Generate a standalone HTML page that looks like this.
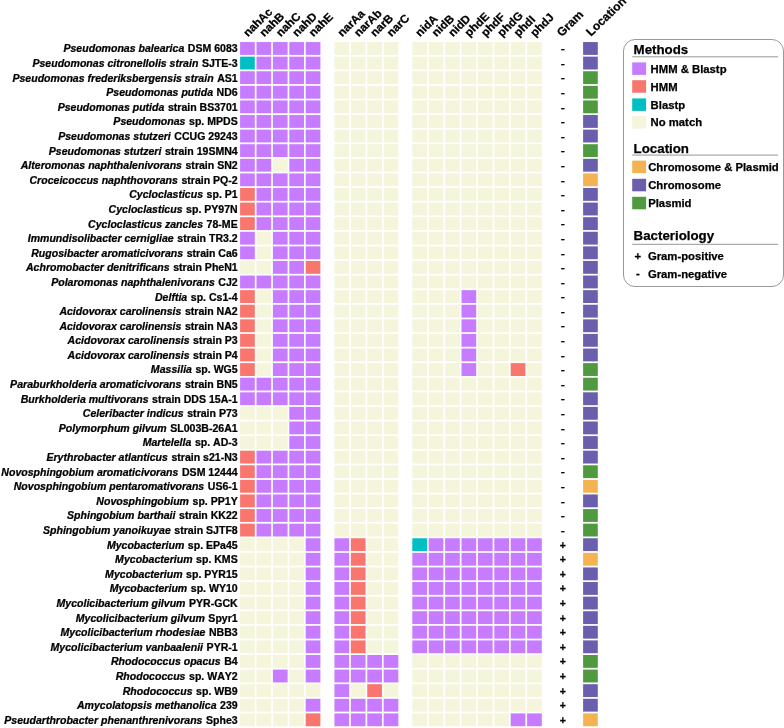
<!DOCTYPE html>
<html lang="en"><head><meta charset="utf-8"><title>Heatmap</title>
<style>html,body{margin:0;padding:0;background:#fff}svg{display:block}text{font-kerning:none;stroke:#000;stroke-width:0.25px;font-family:"Liberation Sans",Arial,Helvetica,sans-serif;font-weight:bold;fill:#000}.i{font-style:italic}</style></head><body>
<svg width="784" height="728" viewBox="0 0 784 728">
<rect width="784" height="728" fill="#fff"/>
<g shape-rendering="auto">
<rect x="240.10" y="42.05" width="14.7" height="12.85" fill="#c77cff"/>
<rect x="256.50" y="42.05" width="14.7" height="12.85" fill="#c77cff"/>
<rect x="272.90" y="42.05" width="14.7" height="12.85" fill="#c77cff"/>
<rect x="289.30" y="42.05" width="14.7" height="12.85" fill="#c77cff"/>
<rect x="305.70" y="42.05" width="14.7" height="12.85" fill="#c77cff"/>
<rect x="334.45" y="42.05" width="14.7" height="12.85" fill="#f4f5db"/>
<rect x="350.85" y="42.05" width="14.7" height="12.85" fill="#f4f5db"/>
<rect x="367.25" y="42.05" width="14.7" height="12.85" fill="#f4f5db"/>
<rect x="383.65" y="42.05" width="14.7" height="12.85" fill="#f4f5db"/>
<rect x="412.30" y="42.05" width="14.7" height="12.85" fill="#f4f5db"/>
<rect x="428.70" y="42.05" width="14.7" height="12.85" fill="#f4f5db"/>
<rect x="445.10" y="42.05" width="14.7" height="12.85" fill="#f4f5db"/>
<rect x="461.50" y="42.05" width="14.7" height="12.85" fill="#f4f5db"/>
<rect x="477.90" y="42.05" width="14.7" height="12.85" fill="#f4f5db"/>
<rect x="494.30" y="42.05" width="14.7" height="12.85" fill="#f4f5db"/>
<rect x="510.70" y="42.05" width="14.7" height="12.85" fill="#f4f5db"/>
<rect x="527.10" y="42.05" width="14.7" height="12.85" fill="#f4f5db"/>
<rect x="583.1" y="42.05" width="14.7" height="12.85" fill="#6a5fac"/>
<rect x="240.10" y="56.64" width="14.7" height="12.85" fill="#00bfc4"/>
<rect x="256.50" y="56.64" width="14.7" height="12.85" fill="#c77cff"/>
<rect x="272.90" y="56.64" width="14.7" height="12.85" fill="#c77cff"/>
<rect x="289.30" y="56.64" width="14.7" height="12.85" fill="#c77cff"/>
<rect x="305.70" y="56.64" width="14.7" height="12.85" fill="#c77cff"/>
<rect x="334.45" y="56.64" width="14.7" height="12.85" fill="#f4f5db"/>
<rect x="350.85" y="56.64" width="14.7" height="12.85" fill="#f4f5db"/>
<rect x="367.25" y="56.64" width="14.7" height="12.85" fill="#f4f5db"/>
<rect x="383.65" y="56.64" width="14.7" height="12.85" fill="#f4f5db"/>
<rect x="412.30" y="56.64" width="14.7" height="12.85" fill="#f4f5db"/>
<rect x="428.70" y="56.64" width="14.7" height="12.85" fill="#f4f5db"/>
<rect x="445.10" y="56.64" width="14.7" height="12.85" fill="#f4f5db"/>
<rect x="461.50" y="56.64" width="14.7" height="12.85" fill="#f4f5db"/>
<rect x="477.90" y="56.64" width="14.7" height="12.85" fill="#f4f5db"/>
<rect x="494.30" y="56.64" width="14.7" height="12.85" fill="#f4f5db"/>
<rect x="510.70" y="56.64" width="14.7" height="12.85" fill="#f4f5db"/>
<rect x="527.10" y="56.64" width="14.7" height="12.85" fill="#f4f5db"/>
<rect x="583.1" y="56.64" width="14.7" height="12.85" fill="#6a5fac"/>
<rect x="240.10" y="71.24" width="14.7" height="12.85" fill="#c77cff"/>
<rect x="256.50" y="71.24" width="14.7" height="12.85" fill="#c77cff"/>
<rect x="272.90" y="71.24" width="14.7" height="12.85" fill="#c77cff"/>
<rect x="289.30" y="71.24" width="14.7" height="12.85" fill="#c77cff"/>
<rect x="305.70" y="71.24" width="14.7" height="12.85" fill="#c77cff"/>
<rect x="334.45" y="71.24" width="14.7" height="12.85" fill="#f4f5db"/>
<rect x="350.85" y="71.24" width="14.7" height="12.85" fill="#f4f5db"/>
<rect x="367.25" y="71.24" width="14.7" height="12.85" fill="#f4f5db"/>
<rect x="383.65" y="71.24" width="14.7" height="12.85" fill="#f4f5db"/>
<rect x="412.30" y="71.24" width="14.7" height="12.85" fill="#f4f5db"/>
<rect x="428.70" y="71.24" width="14.7" height="12.85" fill="#f4f5db"/>
<rect x="445.10" y="71.24" width="14.7" height="12.85" fill="#f4f5db"/>
<rect x="461.50" y="71.24" width="14.7" height="12.85" fill="#f4f5db"/>
<rect x="477.90" y="71.24" width="14.7" height="12.85" fill="#f4f5db"/>
<rect x="494.30" y="71.24" width="14.7" height="12.85" fill="#f4f5db"/>
<rect x="510.70" y="71.24" width="14.7" height="12.85" fill="#f4f5db"/>
<rect x="527.10" y="71.24" width="14.7" height="12.85" fill="#f4f5db"/>
<rect x="583.1" y="71.24" width="14.7" height="12.85" fill="#4f9a3f"/>
<rect x="240.10" y="85.83" width="14.7" height="12.85" fill="#c77cff"/>
<rect x="256.50" y="85.83" width="14.7" height="12.85" fill="#c77cff"/>
<rect x="272.90" y="85.83" width="14.7" height="12.85" fill="#c77cff"/>
<rect x="289.30" y="85.83" width="14.7" height="12.85" fill="#c77cff"/>
<rect x="305.70" y="85.83" width="14.7" height="12.85" fill="#c77cff"/>
<rect x="334.45" y="85.83" width="14.7" height="12.85" fill="#f4f5db"/>
<rect x="350.85" y="85.83" width="14.7" height="12.85" fill="#f4f5db"/>
<rect x="367.25" y="85.83" width="14.7" height="12.85" fill="#f4f5db"/>
<rect x="383.65" y="85.83" width="14.7" height="12.85" fill="#f4f5db"/>
<rect x="412.30" y="85.83" width="14.7" height="12.85" fill="#f4f5db"/>
<rect x="428.70" y="85.83" width="14.7" height="12.85" fill="#f4f5db"/>
<rect x="445.10" y="85.83" width="14.7" height="12.85" fill="#f4f5db"/>
<rect x="461.50" y="85.83" width="14.7" height="12.85" fill="#f4f5db"/>
<rect x="477.90" y="85.83" width="14.7" height="12.85" fill="#f4f5db"/>
<rect x="494.30" y="85.83" width="14.7" height="12.85" fill="#f4f5db"/>
<rect x="510.70" y="85.83" width="14.7" height="12.85" fill="#f4f5db"/>
<rect x="527.10" y="85.83" width="14.7" height="12.85" fill="#f4f5db"/>
<rect x="583.1" y="85.83" width="14.7" height="12.85" fill="#4f9a3f"/>
<rect x="240.10" y="100.43" width="14.7" height="12.85" fill="#c77cff"/>
<rect x="256.50" y="100.43" width="14.7" height="12.85" fill="#c77cff"/>
<rect x="272.90" y="100.43" width="14.7" height="12.85" fill="#c77cff"/>
<rect x="289.30" y="100.43" width="14.7" height="12.85" fill="#c77cff"/>
<rect x="305.70" y="100.43" width="14.7" height="12.85" fill="#c77cff"/>
<rect x="334.45" y="100.43" width="14.7" height="12.85" fill="#f4f5db"/>
<rect x="350.85" y="100.43" width="14.7" height="12.85" fill="#f4f5db"/>
<rect x="367.25" y="100.43" width="14.7" height="12.85" fill="#f4f5db"/>
<rect x="383.65" y="100.43" width="14.7" height="12.85" fill="#f4f5db"/>
<rect x="412.30" y="100.43" width="14.7" height="12.85" fill="#f4f5db"/>
<rect x="428.70" y="100.43" width="14.7" height="12.85" fill="#f4f5db"/>
<rect x="445.10" y="100.43" width="14.7" height="12.85" fill="#f4f5db"/>
<rect x="461.50" y="100.43" width="14.7" height="12.85" fill="#f4f5db"/>
<rect x="477.90" y="100.43" width="14.7" height="12.85" fill="#f4f5db"/>
<rect x="494.30" y="100.43" width="14.7" height="12.85" fill="#f4f5db"/>
<rect x="510.70" y="100.43" width="14.7" height="12.85" fill="#f4f5db"/>
<rect x="527.10" y="100.43" width="14.7" height="12.85" fill="#f4f5db"/>
<rect x="583.1" y="100.43" width="14.7" height="12.85" fill="#4f9a3f"/>
<rect x="240.10" y="115.02" width="14.7" height="12.85" fill="#c77cff"/>
<rect x="256.50" y="115.02" width="14.7" height="12.85" fill="#c77cff"/>
<rect x="272.90" y="115.02" width="14.7" height="12.85" fill="#c77cff"/>
<rect x="289.30" y="115.02" width="14.7" height="12.85" fill="#c77cff"/>
<rect x="305.70" y="115.02" width="14.7" height="12.85" fill="#c77cff"/>
<rect x="334.45" y="115.02" width="14.7" height="12.85" fill="#f4f5db"/>
<rect x="350.85" y="115.02" width="14.7" height="12.85" fill="#f4f5db"/>
<rect x="367.25" y="115.02" width="14.7" height="12.85" fill="#f4f5db"/>
<rect x="383.65" y="115.02" width="14.7" height="12.85" fill="#f4f5db"/>
<rect x="412.30" y="115.02" width="14.7" height="12.85" fill="#f4f5db"/>
<rect x="428.70" y="115.02" width="14.7" height="12.85" fill="#f4f5db"/>
<rect x="445.10" y="115.02" width="14.7" height="12.85" fill="#f4f5db"/>
<rect x="461.50" y="115.02" width="14.7" height="12.85" fill="#f4f5db"/>
<rect x="477.90" y="115.02" width="14.7" height="12.85" fill="#f4f5db"/>
<rect x="494.30" y="115.02" width="14.7" height="12.85" fill="#f4f5db"/>
<rect x="510.70" y="115.02" width="14.7" height="12.85" fill="#f4f5db"/>
<rect x="527.10" y="115.02" width="14.7" height="12.85" fill="#f4f5db"/>
<rect x="583.1" y="115.02" width="14.7" height="12.85" fill="#6a5fac"/>
<rect x="240.10" y="129.61" width="14.7" height="12.85" fill="#c77cff"/>
<rect x="256.50" y="129.61" width="14.7" height="12.85" fill="#c77cff"/>
<rect x="272.90" y="129.61" width="14.7" height="12.85" fill="#c77cff"/>
<rect x="289.30" y="129.61" width="14.7" height="12.85" fill="#c77cff"/>
<rect x="305.70" y="129.61" width="14.7" height="12.85" fill="#c77cff"/>
<rect x="334.45" y="129.61" width="14.7" height="12.85" fill="#f4f5db"/>
<rect x="350.85" y="129.61" width="14.7" height="12.85" fill="#f4f5db"/>
<rect x="367.25" y="129.61" width="14.7" height="12.85" fill="#f4f5db"/>
<rect x="383.65" y="129.61" width="14.7" height="12.85" fill="#f4f5db"/>
<rect x="412.30" y="129.61" width="14.7" height="12.85" fill="#f4f5db"/>
<rect x="428.70" y="129.61" width="14.7" height="12.85" fill="#f4f5db"/>
<rect x="445.10" y="129.61" width="14.7" height="12.85" fill="#f4f5db"/>
<rect x="461.50" y="129.61" width="14.7" height="12.85" fill="#f4f5db"/>
<rect x="477.90" y="129.61" width="14.7" height="12.85" fill="#f4f5db"/>
<rect x="494.30" y="129.61" width="14.7" height="12.85" fill="#f4f5db"/>
<rect x="510.70" y="129.61" width="14.7" height="12.85" fill="#f4f5db"/>
<rect x="527.10" y="129.61" width="14.7" height="12.85" fill="#f4f5db"/>
<rect x="583.1" y="129.61" width="14.7" height="12.85" fill="#6a5fac"/>
<rect x="240.10" y="144.21" width="14.7" height="12.85" fill="#c77cff"/>
<rect x="256.50" y="144.21" width="14.7" height="12.85" fill="#c77cff"/>
<rect x="272.90" y="144.21" width="14.7" height="12.85" fill="#c77cff"/>
<rect x="289.30" y="144.21" width="14.7" height="12.85" fill="#c77cff"/>
<rect x="305.70" y="144.21" width="14.7" height="12.85" fill="#c77cff"/>
<rect x="334.45" y="144.21" width="14.7" height="12.85" fill="#f4f5db"/>
<rect x="350.85" y="144.21" width="14.7" height="12.85" fill="#f4f5db"/>
<rect x="367.25" y="144.21" width="14.7" height="12.85" fill="#f4f5db"/>
<rect x="383.65" y="144.21" width="14.7" height="12.85" fill="#f4f5db"/>
<rect x="412.30" y="144.21" width="14.7" height="12.85" fill="#f4f5db"/>
<rect x="428.70" y="144.21" width="14.7" height="12.85" fill="#f4f5db"/>
<rect x="445.10" y="144.21" width="14.7" height="12.85" fill="#f4f5db"/>
<rect x="461.50" y="144.21" width="14.7" height="12.85" fill="#f4f5db"/>
<rect x="477.90" y="144.21" width="14.7" height="12.85" fill="#f4f5db"/>
<rect x="494.30" y="144.21" width="14.7" height="12.85" fill="#f4f5db"/>
<rect x="510.70" y="144.21" width="14.7" height="12.85" fill="#f4f5db"/>
<rect x="527.10" y="144.21" width="14.7" height="12.85" fill="#f4f5db"/>
<rect x="583.1" y="144.21" width="14.7" height="12.85" fill="#4f9a3f"/>
<rect x="240.10" y="158.80" width="14.7" height="12.85" fill="#c77cff"/>
<rect x="256.50" y="158.80" width="14.7" height="12.85" fill="#c77cff"/>
<rect x="272.90" y="158.80" width="14.7" height="12.85" fill="#f4f5db"/>
<rect x="289.30" y="158.80" width="14.7" height="12.85" fill="#c77cff"/>
<rect x="305.70" y="158.80" width="14.7" height="12.85" fill="#c77cff"/>
<rect x="334.45" y="158.80" width="14.7" height="12.85" fill="#f4f5db"/>
<rect x="350.85" y="158.80" width="14.7" height="12.85" fill="#f4f5db"/>
<rect x="367.25" y="158.80" width="14.7" height="12.85" fill="#f4f5db"/>
<rect x="383.65" y="158.80" width="14.7" height="12.85" fill="#f4f5db"/>
<rect x="412.30" y="158.80" width="14.7" height="12.85" fill="#f4f5db"/>
<rect x="428.70" y="158.80" width="14.7" height="12.85" fill="#f4f5db"/>
<rect x="445.10" y="158.80" width="14.7" height="12.85" fill="#f4f5db"/>
<rect x="461.50" y="158.80" width="14.7" height="12.85" fill="#f4f5db"/>
<rect x="477.90" y="158.80" width="14.7" height="12.85" fill="#f4f5db"/>
<rect x="494.30" y="158.80" width="14.7" height="12.85" fill="#f4f5db"/>
<rect x="510.70" y="158.80" width="14.7" height="12.85" fill="#f4f5db"/>
<rect x="527.10" y="158.80" width="14.7" height="12.85" fill="#f4f5db"/>
<rect x="583.1" y="158.80" width="14.7" height="12.85" fill="#6a5fac"/>
<rect x="240.10" y="173.40" width="14.7" height="12.85" fill="#c77cff"/>
<rect x="256.50" y="173.40" width="14.7" height="12.85" fill="#c77cff"/>
<rect x="272.90" y="173.40" width="14.7" height="12.85" fill="#c77cff"/>
<rect x="289.30" y="173.40" width="14.7" height="12.85" fill="#c77cff"/>
<rect x="305.70" y="173.40" width="14.7" height="12.85" fill="#c77cff"/>
<rect x="334.45" y="173.40" width="14.7" height="12.85" fill="#f4f5db"/>
<rect x="350.85" y="173.40" width="14.7" height="12.85" fill="#f4f5db"/>
<rect x="367.25" y="173.40" width="14.7" height="12.85" fill="#f4f5db"/>
<rect x="383.65" y="173.40" width="14.7" height="12.85" fill="#f4f5db"/>
<rect x="412.30" y="173.40" width="14.7" height="12.85" fill="#f4f5db"/>
<rect x="428.70" y="173.40" width="14.7" height="12.85" fill="#f4f5db"/>
<rect x="445.10" y="173.40" width="14.7" height="12.85" fill="#f4f5db"/>
<rect x="461.50" y="173.40" width="14.7" height="12.85" fill="#f4f5db"/>
<rect x="477.90" y="173.40" width="14.7" height="12.85" fill="#f4f5db"/>
<rect x="494.30" y="173.40" width="14.7" height="12.85" fill="#f4f5db"/>
<rect x="510.70" y="173.40" width="14.7" height="12.85" fill="#f4f5db"/>
<rect x="527.10" y="173.40" width="14.7" height="12.85" fill="#f4f5db"/>
<rect x="583.1" y="173.40" width="14.7" height="12.85" fill="#f4b352"/>
<rect x="240.10" y="187.99" width="14.7" height="12.85" fill="#f8766d"/>
<rect x="256.50" y="187.99" width="14.7" height="12.85" fill="#c77cff"/>
<rect x="272.90" y="187.99" width="14.7" height="12.85" fill="#c77cff"/>
<rect x="289.30" y="187.99" width="14.7" height="12.85" fill="#c77cff"/>
<rect x="305.70" y="187.99" width="14.7" height="12.85" fill="#c77cff"/>
<rect x="334.45" y="187.99" width="14.7" height="12.85" fill="#f4f5db"/>
<rect x="350.85" y="187.99" width="14.7" height="12.85" fill="#f4f5db"/>
<rect x="367.25" y="187.99" width="14.7" height="12.85" fill="#f4f5db"/>
<rect x="383.65" y="187.99" width="14.7" height="12.85" fill="#f4f5db"/>
<rect x="412.30" y="187.99" width="14.7" height="12.85" fill="#f4f5db"/>
<rect x="428.70" y="187.99" width="14.7" height="12.85" fill="#f4f5db"/>
<rect x="445.10" y="187.99" width="14.7" height="12.85" fill="#f4f5db"/>
<rect x="461.50" y="187.99" width="14.7" height="12.85" fill="#f4f5db"/>
<rect x="477.90" y="187.99" width="14.7" height="12.85" fill="#f4f5db"/>
<rect x="494.30" y="187.99" width="14.7" height="12.85" fill="#f4f5db"/>
<rect x="510.70" y="187.99" width="14.7" height="12.85" fill="#f4f5db"/>
<rect x="527.10" y="187.99" width="14.7" height="12.85" fill="#f4f5db"/>
<rect x="583.1" y="187.99" width="14.7" height="12.85" fill="#6a5fac"/>
<rect x="240.10" y="202.58" width="14.7" height="12.85" fill="#f8766d"/>
<rect x="256.50" y="202.58" width="14.7" height="12.85" fill="#c77cff"/>
<rect x="272.90" y="202.58" width="14.7" height="12.85" fill="#c77cff"/>
<rect x="289.30" y="202.58" width="14.7" height="12.85" fill="#c77cff"/>
<rect x="305.70" y="202.58" width="14.7" height="12.85" fill="#c77cff"/>
<rect x="334.45" y="202.58" width="14.7" height="12.85" fill="#f4f5db"/>
<rect x="350.85" y="202.58" width="14.7" height="12.85" fill="#f4f5db"/>
<rect x="367.25" y="202.58" width="14.7" height="12.85" fill="#f4f5db"/>
<rect x="383.65" y="202.58" width="14.7" height="12.85" fill="#f4f5db"/>
<rect x="412.30" y="202.58" width="14.7" height="12.85" fill="#f4f5db"/>
<rect x="428.70" y="202.58" width="14.7" height="12.85" fill="#f4f5db"/>
<rect x="445.10" y="202.58" width="14.7" height="12.85" fill="#f4f5db"/>
<rect x="461.50" y="202.58" width="14.7" height="12.85" fill="#f4f5db"/>
<rect x="477.90" y="202.58" width="14.7" height="12.85" fill="#f4f5db"/>
<rect x="494.30" y="202.58" width="14.7" height="12.85" fill="#f4f5db"/>
<rect x="510.70" y="202.58" width="14.7" height="12.85" fill="#f4f5db"/>
<rect x="527.10" y="202.58" width="14.7" height="12.85" fill="#f4f5db"/>
<rect x="583.1" y="202.58" width="14.7" height="12.85" fill="#6a5fac"/>
<rect x="240.10" y="217.18" width="14.7" height="12.85" fill="#f8766d"/>
<rect x="256.50" y="217.18" width="14.7" height="12.85" fill="#c77cff"/>
<rect x="272.90" y="217.18" width="14.7" height="12.85" fill="#c77cff"/>
<rect x="289.30" y="217.18" width="14.7" height="12.85" fill="#c77cff"/>
<rect x="305.70" y="217.18" width="14.7" height="12.85" fill="#c77cff"/>
<rect x="334.45" y="217.18" width="14.7" height="12.85" fill="#f4f5db"/>
<rect x="350.85" y="217.18" width="14.7" height="12.85" fill="#f4f5db"/>
<rect x="367.25" y="217.18" width="14.7" height="12.85" fill="#f4f5db"/>
<rect x="383.65" y="217.18" width="14.7" height="12.85" fill="#f4f5db"/>
<rect x="412.30" y="217.18" width="14.7" height="12.85" fill="#f4f5db"/>
<rect x="428.70" y="217.18" width="14.7" height="12.85" fill="#f4f5db"/>
<rect x="445.10" y="217.18" width="14.7" height="12.85" fill="#f4f5db"/>
<rect x="461.50" y="217.18" width="14.7" height="12.85" fill="#f4f5db"/>
<rect x="477.90" y="217.18" width="14.7" height="12.85" fill="#f4f5db"/>
<rect x="494.30" y="217.18" width="14.7" height="12.85" fill="#f4f5db"/>
<rect x="510.70" y="217.18" width="14.7" height="12.85" fill="#f4f5db"/>
<rect x="527.10" y="217.18" width="14.7" height="12.85" fill="#f4f5db"/>
<rect x="583.1" y="217.18" width="14.7" height="12.85" fill="#6a5fac"/>
<rect x="240.10" y="231.77" width="14.7" height="12.85" fill="#c77cff"/>
<rect x="256.50" y="231.77" width="14.7" height="12.85" fill="#f4f5db"/>
<rect x="272.90" y="231.77" width="14.7" height="12.85" fill="#c77cff"/>
<rect x="289.30" y="231.77" width="14.7" height="12.85" fill="#c77cff"/>
<rect x="305.70" y="231.77" width="14.7" height="12.85" fill="#c77cff"/>
<rect x="334.45" y="231.77" width="14.7" height="12.85" fill="#f4f5db"/>
<rect x="350.85" y="231.77" width="14.7" height="12.85" fill="#f4f5db"/>
<rect x="367.25" y="231.77" width="14.7" height="12.85" fill="#f4f5db"/>
<rect x="383.65" y="231.77" width="14.7" height="12.85" fill="#f4f5db"/>
<rect x="412.30" y="231.77" width="14.7" height="12.85" fill="#f4f5db"/>
<rect x="428.70" y="231.77" width="14.7" height="12.85" fill="#f4f5db"/>
<rect x="445.10" y="231.77" width="14.7" height="12.85" fill="#f4f5db"/>
<rect x="461.50" y="231.77" width="14.7" height="12.85" fill="#f4f5db"/>
<rect x="477.90" y="231.77" width="14.7" height="12.85" fill="#f4f5db"/>
<rect x="494.30" y="231.77" width="14.7" height="12.85" fill="#f4f5db"/>
<rect x="510.70" y="231.77" width="14.7" height="12.85" fill="#f4f5db"/>
<rect x="527.10" y="231.77" width="14.7" height="12.85" fill="#f4f5db"/>
<rect x="583.1" y="231.77" width="14.7" height="12.85" fill="#6a5fac"/>
<rect x="240.10" y="246.37" width="14.7" height="12.85" fill="#c77cff"/>
<rect x="256.50" y="246.37" width="14.7" height="12.85" fill="#f4f5db"/>
<rect x="272.90" y="246.37" width="14.7" height="12.85" fill="#c77cff"/>
<rect x="289.30" y="246.37" width="14.7" height="12.85" fill="#c77cff"/>
<rect x="305.70" y="246.37" width="14.7" height="12.85" fill="#c77cff"/>
<rect x="334.45" y="246.37" width="14.7" height="12.85" fill="#f4f5db"/>
<rect x="350.85" y="246.37" width="14.7" height="12.85" fill="#f4f5db"/>
<rect x="367.25" y="246.37" width="14.7" height="12.85" fill="#f4f5db"/>
<rect x="383.65" y="246.37" width="14.7" height="12.85" fill="#f4f5db"/>
<rect x="412.30" y="246.37" width="14.7" height="12.85" fill="#f4f5db"/>
<rect x="428.70" y="246.37" width="14.7" height="12.85" fill="#f4f5db"/>
<rect x="445.10" y="246.37" width="14.7" height="12.85" fill="#f4f5db"/>
<rect x="461.50" y="246.37" width="14.7" height="12.85" fill="#f4f5db"/>
<rect x="477.90" y="246.37" width="14.7" height="12.85" fill="#f4f5db"/>
<rect x="494.30" y="246.37" width="14.7" height="12.85" fill="#f4f5db"/>
<rect x="510.70" y="246.37" width="14.7" height="12.85" fill="#f4f5db"/>
<rect x="527.10" y="246.37" width="14.7" height="12.85" fill="#f4f5db"/>
<rect x="583.1" y="246.37" width="14.7" height="12.85" fill="#6a5fac"/>
<rect x="240.10" y="260.96" width="14.7" height="12.85" fill="#f4f5db"/>
<rect x="256.50" y="260.96" width="14.7" height="12.85" fill="#f4f5db"/>
<rect x="272.90" y="260.96" width="14.7" height="12.85" fill="#c77cff"/>
<rect x="289.30" y="260.96" width="14.7" height="12.85" fill="#c77cff"/>
<rect x="305.70" y="260.96" width="14.7" height="12.85" fill="#f8766d"/>
<rect x="334.45" y="260.96" width="14.7" height="12.85" fill="#f4f5db"/>
<rect x="350.85" y="260.96" width="14.7" height="12.85" fill="#f4f5db"/>
<rect x="367.25" y="260.96" width="14.7" height="12.85" fill="#f4f5db"/>
<rect x="383.65" y="260.96" width="14.7" height="12.85" fill="#f4f5db"/>
<rect x="412.30" y="260.96" width="14.7" height="12.85" fill="#f4f5db"/>
<rect x="428.70" y="260.96" width="14.7" height="12.85" fill="#f4f5db"/>
<rect x="445.10" y="260.96" width="14.7" height="12.85" fill="#f4f5db"/>
<rect x="461.50" y="260.96" width="14.7" height="12.85" fill="#f4f5db"/>
<rect x="477.90" y="260.96" width="14.7" height="12.85" fill="#f4f5db"/>
<rect x="494.30" y="260.96" width="14.7" height="12.85" fill="#f4f5db"/>
<rect x="510.70" y="260.96" width="14.7" height="12.85" fill="#f4f5db"/>
<rect x="527.10" y="260.96" width="14.7" height="12.85" fill="#f4f5db"/>
<rect x="583.1" y="260.96" width="14.7" height="12.85" fill="#6a5fac"/>
<rect x="240.10" y="275.55" width="14.7" height="12.85" fill="#c77cff"/>
<rect x="256.50" y="275.55" width="14.7" height="12.85" fill="#c77cff"/>
<rect x="272.90" y="275.55" width="14.7" height="12.85" fill="#c77cff"/>
<rect x="289.30" y="275.55" width="14.7" height="12.85" fill="#c77cff"/>
<rect x="305.70" y="275.55" width="14.7" height="12.85" fill="#c77cff"/>
<rect x="334.45" y="275.55" width="14.7" height="12.85" fill="#f4f5db"/>
<rect x="350.85" y="275.55" width="14.7" height="12.85" fill="#f4f5db"/>
<rect x="367.25" y="275.55" width="14.7" height="12.85" fill="#f4f5db"/>
<rect x="383.65" y="275.55" width="14.7" height="12.85" fill="#f4f5db"/>
<rect x="412.30" y="275.55" width="14.7" height="12.85" fill="#f4f5db"/>
<rect x="428.70" y="275.55" width="14.7" height="12.85" fill="#f4f5db"/>
<rect x="445.10" y="275.55" width="14.7" height="12.85" fill="#f4f5db"/>
<rect x="461.50" y="275.55" width="14.7" height="12.85" fill="#f4f5db"/>
<rect x="477.90" y="275.55" width="14.7" height="12.85" fill="#f4f5db"/>
<rect x="494.30" y="275.55" width="14.7" height="12.85" fill="#f4f5db"/>
<rect x="510.70" y="275.55" width="14.7" height="12.85" fill="#f4f5db"/>
<rect x="527.10" y="275.55" width="14.7" height="12.85" fill="#f4f5db"/>
<rect x="583.1" y="275.55" width="14.7" height="12.85" fill="#6a5fac"/>
<rect x="240.10" y="290.15" width="14.7" height="12.85" fill="#f8766d"/>
<rect x="256.50" y="290.15" width="14.7" height="12.85" fill="#f4f5db"/>
<rect x="272.90" y="290.15" width="14.7" height="12.85" fill="#c77cff"/>
<rect x="289.30" y="290.15" width="14.7" height="12.85" fill="#c77cff"/>
<rect x="305.70" y="290.15" width="14.7" height="12.85" fill="#c77cff"/>
<rect x="334.45" y="290.15" width="14.7" height="12.85" fill="#f4f5db"/>
<rect x="350.85" y="290.15" width="14.7" height="12.85" fill="#f4f5db"/>
<rect x="367.25" y="290.15" width="14.7" height="12.85" fill="#f4f5db"/>
<rect x="383.65" y="290.15" width="14.7" height="12.85" fill="#f4f5db"/>
<rect x="412.30" y="290.15" width="14.7" height="12.85" fill="#f4f5db"/>
<rect x="428.70" y="290.15" width="14.7" height="12.85" fill="#f4f5db"/>
<rect x="445.10" y="290.15" width="14.7" height="12.85" fill="#f4f5db"/>
<rect x="461.50" y="290.15" width="14.7" height="12.85" fill="#c77cff"/>
<rect x="477.90" y="290.15" width="14.7" height="12.85" fill="#f4f5db"/>
<rect x="494.30" y="290.15" width="14.7" height="12.85" fill="#f4f5db"/>
<rect x="510.70" y="290.15" width="14.7" height="12.85" fill="#f4f5db"/>
<rect x="527.10" y="290.15" width="14.7" height="12.85" fill="#f4f5db"/>
<rect x="583.1" y="290.15" width="14.7" height="12.85" fill="#6a5fac"/>
<rect x="240.10" y="304.74" width="14.7" height="12.85" fill="#f8766d"/>
<rect x="256.50" y="304.74" width="14.7" height="12.85" fill="#f4f5db"/>
<rect x="272.90" y="304.74" width="14.7" height="12.85" fill="#c77cff"/>
<rect x="289.30" y="304.74" width="14.7" height="12.85" fill="#c77cff"/>
<rect x="305.70" y="304.74" width="14.7" height="12.85" fill="#c77cff"/>
<rect x="334.45" y="304.74" width="14.7" height="12.85" fill="#f4f5db"/>
<rect x="350.85" y="304.74" width="14.7" height="12.85" fill="#f4f5db"/>
<rect x="367.25" y="304.74" width="14.7" height="12.85" fill="#f4f5db"/>
<rect x="383.65" y="304.74" width="14.7" height="12.85" fill="#f4f5db"/>
<rect x="412.30" y="304.74" width="14.7" height="12.85" fill="#f4f5db"/>
<rect x="428.70" y="304.74" width="14.7" height="12.85" fill="#f4f5db"/>
<rect x="445.10" y="304.74" width="14.7" height="12.85" fill="#f4f5db"/>
<rect x="461.50" y="304.74" width="14.7" height="12.85" fill="#c77cff"/>
<rect x="477.90" y="304.74" width="14.7" height="12.85" fill="#f4f5db"/>
<rect x="494.30" y="304.74" width="14.7" height="12.85" fill="#f4f5db"/>
<rect x="510.70" y="304.74" width="14.7" height="12.85" fill="#f4f5db"/>
<rect x="527.10" y="304.74" width="14.7" height="12.85" fill="#f4f5db"/>
<rect x="583.1" y="304.74" width="14.7" height="12.85" fill="#6a5fac"/>
<rect x="240.10" y="319.34" width="14.7" height="12.85" fill="#f8766d"/>
<rect x="256.50" y="319.34" width="14.7" height="12.85" fill="#f4f5db"/>
<rect x="272.90" y="319.34" width="14.7" height="12.85" fill="#c77cff"/>
<rect x="289.30" y="319.34" width="14.7" height="12.85" fill="#c77cff"/>
<rect x="305.70" y="319.34" width="14.7" height="12.85" fill="#c77cff"/>
<rect x="334.45" y="319.34" width="14.7" height="12.85" fill="#f4f5db"/>
<rect x="350.85" y="319.34" width="14.7" height="12.85" fill="#f4f5db"/>
<rect x="367.25" y="319.34" width="14.7" height="12.85" fill="#f4f5db"/>
<rect x="383.65" y="319.34" width="14.7" height="12.85" fill="#f4f5db"/>
<rect x="412.30" y="319.34" width="14.7" height="12.85" fill="#f4f5db"/>
<rect x="428.70" y="319.34" width="14.7" height="12.85" fill="#f4f5db"/>
<rect x="445.10" y="319.34" width="14.7" height="12.85" fill="#f4f5db"/>
<rect x="461.50" y="319.34" width="14.7" height="12.85" fill="#c77cff"/>
<rect x="477.90" y="319.34" width="14.7" height="12.85" fill="#f4f5db"/>
<rect x="494.30" y="319.34" width="14.7" height="12.85" fill="#f4f5db"/>
<rect x="510.70" y="319.34" width="14.7" height="12.85" fill="#f4f5db"/>
<rect x="527.10" y="319.34" width="14.7" height="12.85" fill="#f4f5db"/>
<rect x="583.1" y="319.34" width="14.7" height="12.85" fill="#6a5fac"/>
<rect x="240.10" y="333.93" width="14.7" height="12.85" fill="#f8766d"/>
<rect x="256.50" y="333.93" width="14.7" height="12.85" fill="#f4f5db"/>
<rect x="272.90" y="333.93" width="14.7" height="12.85" fill="#c77cff"/>
<rect x="289.30" y="333.93" width="14.7" height="12.85" fill="#c77cff"/>
<rect x="305.70" y="333.93" width="14.7" height="12.85" fill="#c77cff"/>
<rect x="334.45" y="333.93" width="14.7" height="12.85" fill="#f4f5db"/>
<rect x="350.85" y="333.93" width="14.7" height="12.85" fill="#f4f5db"/>
<rect x="367.25" y="333.93" width="14.7" height="12.85" fill="#f4f5db"/>
<rect x="383.65" y="333.93" width="14.7" height="12.85" fill="#f4f5db"/>
<rect x="412.30" y="333.93" width="14.7" height="12.85" fill="#f4f5db"/>
<rect x="428.70" y="333.93" width="14.7" height="12.85" fill="#f4f5db"/>
<rect x="445.10" y="333.93" width="14.7" height="12.85" fill="#f4f5db"/>
<rect x="461.50" y="333.93" width="14.7" height="12.85" fill="#c77cff"/>
<rect x="477.90" y="333.93" width="14.7" height="12.85" fill="#f4f5db"/>
<rect x="494.30" y="333.93" width="14.7" height="12.85" fill="#f4f5db"/>
<rect x="510.70" y="333.93" width="14.7" height="12.85" fill="#f4f5db"/>
<rect x="527.10" y="333.93" width="14.7" height="12.85" fill="#f4f5db"/>
<rect x="583.1" y="333.93" width="14.7" height="12.85" fill="#6a5fac"/>
<rect x="240.10" y="348.52" width="14.7" height="12.85" fill="#f8766d"/>
<rect x="256.50" y="348.52" width="14.7" height="12.85" fill="#f4f5db"/>
<rect x="272.90" y="348.52" width="14.7" height="12.85" fill="#c77cff"/>
<rect x="289.30" y="348.52" width="14.7" height="12.85" fill="#c77cff"/>
<rect x="305.70" y="348.52" width="14.7" height="12.85" fill="#c77cff"/>
<rect x="334.45" y="348.52" width="14.7" height="12.85" fill="#f4f5db"/>
<rect x="350.85" y="348.52" width="14.7" height="12.85" fill="#f4f5db"/>
<rect x="367.25" y="348.52" width="14.7" height="12.85" fill="#f4f5db"/>
<rect x="383.65" y="348.52" width="14.7" height="12.85" fill="#f4f5db"/>
<rect x="412.30" y="348.52" width="14.7" height="12.85" fill="#f4f5db"/>
<rect x="428.70" y="348.52" width="14.7" height="12.85" fill="#f4f5db"/>
<rect x="445.10" y="348.52" width="14.7" height="12.85" fill="#f4f5db"/>
<rect x="461.50" y="348.52" width="14.7" height="12.85" fill="#c77cff"/>
<rect x="477.90" y="348.52" width="14.7" height="12.85" fill="#f4f5db"/>
<rect x="494.30" y="348.52" width="14.7" height="12.85" fill="#f4f5db"/>
<rect x="510.70" y="348.52" width="14.7" height="12.85" fill="#f4f5db"/>
<rect x="527.10" y="348.52" width="14.7" height="12.85" fill="#f4f5db"/>
<rect x="583.1" y="348.52" width="14.7" height="12.85" fill="#6a5fac"/>
<rect x="240.10" y="363.12" width="14.7" height="12.85" fill="#f8766d"/>
<rect x="256.50" y="363.12" width="14.7" height="12.85" fill="#f4f5db"/>
<rect x="272.90" y="363.12" width="14.7" height="12.85" fill="#c77cff"/>
<rect x="289.30" y="363.12" width="14.7" height="12.85" fill="#c77cff"/>
<rect x="305.70" y="363.12" width="14.7" height="12.85" fill="#c77cff"/>
<rect x="334.45" y="363.12" width="14.7" height="12.85" fill="#f4f5db"/>
<rect x="350.85" y="363.12" width="14.7" height="12.85" fill="#f4f5db"/>
<rect x="367.25" y="363.12" width="14.7" height="12.85" fill="#f4f5db"/>
<rect x="383.65" y="363.12" width="14.7" height="12.85" fill="#f4f5db"/>
<rect x="412.30" y="363.12" width="14.7" height="12.85" fill="#f4f5db"/>
<rect x="428.70" y="363.12" width="14.7" height="12.85" fill="#f4f5db"/>
<rect x="445.10" y="363.12" width="14.7" height="12.85" fill="#f4f5db"/>
<rect x="461.50" y="363.12" width="14.7" height="12.85" fill="#c77cff"/>
<rect x="477.90" y="363.12" width="14.7" height="12.85" fill="#f4f5db"/>
<rect x="494.30" y="363.12" width="14.7" height="12.85" fill="#f4f5db"/>
<rect x="510.70" y="363.12" width="14.7" height="12.85" fill="#f8766d"/>
<rect x="527.10" y="363.12" width="14.7" height="12.85" fill="#f4f5db"/>
<rect x="583.1" y="363.12" width="14.7" height="12.85" fill="#4f9a3f"/>
<rect x="240.10" y="377.71" width="14.7" height="12.85" fill="#c77cff"/>
<rect x="256.50" y="377.71" width="14.7" height="12.85" fill="#c77cff"/>
<rect x="272.90" y="377.71" width="14.7" height="12.85" fill="#c77cff"/>
<rect x="289.30" y="377.71" width="14.7" height="12.85" fill="#c77cff"/>
<rect x="305.70" y="377.71" width="14.7" height="12.85" fill="#c77cff"/>
<rect x="334.45" y="377.71" width="14.7" height="12.85" fill="#f4f5db"/>
<rect x="350.85" y="377.71" width="14.7" height="12.85" fill="#f4f5db"/>
<rect x="367.25" y="377.71" width="14.7" height="12.85" fill="#f4f5db"/>
<rect x="383.65" y="377.71" width="14.7" height="12.85" fill="#f4f5db"/>
<rect x="412.30" y="377.71" width="14.7" height="12.85" fill="#f4f5db"/>
<rect x="428.70" y="377.71" width="14.7" height="12.85" fill="#f4f5db"/>
<rect x="445.10" y="377.71" width="14.7" height="12.85" fill="#f4f5db"/>
<rect x="461.50" y="377.71" width="14.7" height="12.85" fill="#f4f5db"/>
<rect x="477.90" y="377.71" width="14.7" height="12.85" fill="#f4f5db"/>
<rect x="494.30" y="377.71" width="14.7" height="12.85" fill="#f4f5db"/>
<rect x="510.70" y="377.71" width="14.7" height="12.85" fill="#f4f5db"/>
<rect x="527.10" y="377.71" width="14.7" height="12.85" fill="#f4f5db"/>
<rect x="583.1" y="377.71" width="14.7" height="12.85" fill="#4f9a3f"/>
<rect x="240.10" y="392.31" width="14.7" height="12.85" fill="#c77cff"/>
<rect x="256.50" y="392.31" width="14.7" height="12.85" fill="#c77cff"/>
<rect x="272.90" y="392.31" width="14.7" height="12.85" fill="#c77cff"/>
<rect x="289.30" y="392.31" width="14.7" height="12.85" fill="#c77cff"/>
<rect x="305.70" y="392.31" width="14.7" height="12.85" fill="#c77cff"/>
<rect x="334.45" y="392.31" width="14.7" height="12.85" fill="#f4f5db"/>
<rect x="350.85" y="392.31" width="14.7" height="12.85" fill="#f4f5db"/>
<rect x="367.25" y="392.31" width="14.7" height="12.85" fill="#f4f5db"/>
<rect x="383.65" y="392.31" width="14.7" height="12.85" fill="#f4f5db"/>
<rect x="412.30" y="392.31" width="14.7" height="12.85" fill="#f4f5db"/>
<rect x="428.70" y="392.31" width="14.7" height="12.85" fill="#f4f5db"/>
<rect x="445.10" y="392.31" width="14.7" height="12.85" fill="#f4f5db"/>
<rect x="461.50" y="392.31" width="14.7" height="12.85" fill="#f4f5db"/>
<rect x="477.90" y="392.31" width="14.7" height="12.85" fill="#f4f5db"/>
<rect x="494.30" y="392.31" width="14.7" height="12.85" fill="#f4f5db"/>
<rect x="510.70" y="392.31" width="14.7" height="12.85" fill="#f4f5db"/>
<rect x="527.10" y="392.31" width="14.7" height="12.85" fill="#f4f5db"/>
<rect x="583.1" y="392.31" width="14.7" height="12.85" fill="#6a5fac"/>
<rect x="240.10" y="406.90" width="14.7" height="12.85" fill="#f4f5db"/>
<rect x="256.50" y="406.90" width="14.7" height="12.85" fill="#f4f5db"/>
<rect x="272.90" y="406.90" width="14.7" height="12.85" fill="#f4f5db"/>
<rect x="289.30" y="406.90" width="14.7" height="12.85" fill="#c77cff"/>
<rect x="305.70" y="406.90" width="14.7" height="12.85" fill="#c77cff"/>
<rect x="334.45" y="406.90" width="14.7" height="12.85" fill="#f4f5db"/>
<rect x="350.85" y="406.90" width="14.7" height="12.85" fill="#f4f5db"/>
<rect x="367.25" y="406.90" width="14.7" height="12.85" fill="#f4f5db"/>
<rect x="383.65" y="406.90" width="14.7" height="12.85" fill="#f4f5db"/>
<rect x="412.30" y="406.90" width="14.7" height="12.85" fill="#f4f5db"/>
<rect x="428.70" y="406.90" width="14.7" height="12.85" fill="#f4f5db"/>
<rect x="445.10" y="406.90" width="14.7" height="12.85" fill="#f4f5db"/>
<rect x="461.50" y="406.90" width="14.7" height="12.85" fill="#f4f5db"/>
<rect x="477.90" y="406.90" width="14.7" height="12.85" fill="#f4f5db"/>
<rect x="494.30" y="406.90" width="14.7" height="12.85" fill="#f4f5db"/>
<rect x="510.70" y="406.90" width="14.7" height="12.85" fill="#f4f5db"/>
<rect x="527.10" y="406.90" width="14.7" height="12.85" fill="#f4f5db"/>
<rect x="583.1" y="406.90" width="14.7" height="12.85" fill="#6a5fac"/>
<rect x="240.10" y="421.49" width="14.7" height="12.85" fill="#f4f5db"/>
<rect x="256.50" y="421.49" width="14.7" height="12.85" fill="#f4f5db"/>
<rect x="272.90" y="421.49" width="14.7" height="12.85" fill="#f4f5db"/>
<rect x="289.30" y="421.49" width="14.7" height="12.85" fill="#c77cff"/>
<rect x="305.70" y="421.49" width="14.7" height="12.85" fill="#c77cff"/>
<rect x="334.45" y="421.49" width="14.7" height="12.85" fill="#f4f5db"/>
<rect x="350.85" y="421.49" width="14.7" height="12.85" fill="#f4f5db"/>
<rect x="367.25" y="421.49" width="14.7" height="12.85" fill="#f4f5db"/>
<rect x="383.65" y="421.49" width="14.7" height="12.85" fill="#f4f5db"/>
<rect x="412.30" y="421.49" width="14.7" height="12.85" fill="#f4f5db"/>
<rect x="428.70" y="421.49" width="14.7" height="12.85" fill="#f4f5db"/>
<rect x="445.10" y="421.49" width="14.7" height="12.85" fill="#f4f5db"/>
<rect x="461.50" y="421.49" width="14.7" height="12.85" fill="#f4f5db"/>
<rect x="477.90" y="421.49" width="14.7" height="12.85" fill="#f4f5db"/>
<rect x="494.30" y="421.49" width="14.7" height="12.85" fill="#f4f5db"/>
<rect x="510.70" y="421.49" width="14.7" height="12.85" fill="#f4f5db"/>
<rect x="527.10" y="421.49" width="14.7" height="12.85" fill="#f4f5db"/>
<rect x="583.1" y="421.49" width="14.7" height="12.85" fill="#6a5fac"/>
<rect x="240.10" y="436.09" width="14.7" height="12.85" fill="#f4f5db"/>
<rect x="256.50" y="436.09" width="14.7" height="12.85" fill="#f4f5db"/>
<rect x="272.90" y="436.09" width="14.7" height="12.85" fill="#f4f5db"/>
<rect x="289.30" y="436.09" width="14.7" height="12.85" fill="#c77cff"/>
<rect x="305.70" y="436.09" width="14.7" height="12.85" fill="#c77cff"/>
<rect x="334.45" y="436.09" width="14.7" height="12.85" fill="#f4f5db"/>
<rect x="350.85" y="436.09" width="14.7" height="12.85" fill="#f4f5db"/>
<rect x="367.25" y="436.09" width="14.7" height="12.85" fill="#f4f5db"/>
<rect x="383.65" y="436.09" width="14.7" height="12.85" fill="#f4f5db"/>
<rect x="412.30" y="436.09" width="14.7" height="12.85" fill="#f4f5db"/>
<rect x="428.70" y="436.09" width="14.7" height="12.85" fill="#f4f5db"/>
<rect x="445.10" y="436.09" width="14.7" height="12.85" fill="#f4f5db"/>
<rect x="461.50" y="436.09" width="14.7" height="12.85" fill="#f4f5db"/>
<rect x="477.90" y="436.09" width="14.7" height="12.85" fill="#f4f5db"/>
<rect x="494.30" y="436.09" width="14.7" height="12.85" fill="#f4f5db"/>
<rect x="510.70" y="436.09" width="14.7" height="12.85" fill="#f4f5db"/>
<rect x="527.10" y="436.09" width="14.7" height="12.85" fill="#f4f5db"/>
<rect x="583.1" y="436.09" width="14.7" height="12.85" fill="#6a5fac"/>
<rect x="240.10" y="450.68" width="14.7" height="12.85" fill="#f8766d"/>
<rect x="256.50" y="450.68" width="14.7" height="12.85" fill="#c77cff"/>
<rect x="272.90" y="450.68" width="14.7" height="12.85" fill="#c77cff"/>
<rect x="289.30" y="450.68" width="14.7" height="12.85" fill="#c77cff"/>
<rect x="305.70" y="450.68" width="14.7" height="12.85" fill="#c77cff"/>
<rect x="334.45" y="450.68" width="14.7" height="12.85" fill="#f4f5db"/>
<rect x="350.85" y="450.68" width="14.7" height="12.85" fill="#f4f5db"/>
<rect x="367.25" y="450.68" width="14.7" height="12.85" fill="#f4f5db"/>
<rect x="383.65" y="450.68" width="14.7" height="12.85" fill="#f4f5db"/>
<rect x="412.30" y="450.68" width="14.7" height="12.85" fill="#f4f5db"/>
<rect x="428.70" y="450.68" width="14.7" height="12.85" fill="#f4f5db"/>
<rect x="445.10" y="450.68" width="14.7" height="12.85" fill="#f4f5db"/>
<rect x="461.50" y="450.68" width="14.7" height="12.85" fill="#f4f5db"/>
<rect x="477.90" y="450.68" width="14.7" height="12.85" fill="#f4f5db"/>
<rect x="494.30" y="450.68" width="14.7" height="12.85" fill="#f4f5db"/>
<rect x="510.70" y="450.68" width="14.7" height="12.85" fill="#f4f5db"/>
<rect x="527.10" y="450.68" width="14.7" height="12.85" fill="#f4f5db"/>
<rect x="583.1" y="450.68" width="14.7" height="12.85" fill="#6a5fac"/>
<rect x="240.10" y="465.28" width="14.7" height="12.85" fill="#f8766d"/>
<rect x="256.50" y="465.28" width="14.7" height="12.85" fill="#c77cff"/>
<rect x="272.90" y="465.28" width="14.7" height="12.85" fill="#c77cff"/>
<rect x="289.30" y="465.28" width="14.7" height="12.85" fill="#c77cff"/>
<rect x="305.70" y="465.28" width="14.7" height="12.85" fill="#c77cff"/>
<rect x="334.45" y="465.28" width="14.7" height="12.85" fill="#f4f5db"/>
<rect x="350.85" y="465.28" width="14.7" height="12.85" fill="#f4f5db"/>
<rect x="367.25" y="465.28" width="14.7" height="12.85" fill="#f4f5db"/>
<rect x="383.65" y="465.28" width="14.7" height="12.85" fill="#f4f5db"/>
<rect x="412.30" y="465.28" width="14.7" height="12.85" fill="#f4f5db"/>
<rect x="428.70" y="465.28" width="14.7" height="12.85" fill="#f4f5db"/>
<rect x="445.10" y="465.28" width="14.7" height="12.85" fill="#f4f5db"/>
<rect x="461.50" y="465.28" width="14.7" height="12.85" fill="#f4f5db"/>
<rect x="477.90" y="465.28" width="14.7" height="12.85" fill="#f4f5db"/>
<rect x="494.30" y="465.28" width="14.7" height="12.85" fill="#f4f5db"/>
<rect x="510.70" y="465.28" width="14.7" height="12.85" fill="#f4f5db"/>
<rect x="527.10" y="465.28" width="14.7" height="12.85" fill="#f4f5db"/>
<rect x="583.1" y="465.28" width="14.7" height="12.85" fill="#4f9a3f"/>
<rect x="240.10" y="479.87" width="14.7" height="12.85" fill="#f8766d"/>
<rect x="256.50" y="479.87" width="14.7" height="12.85" fill="#c77cff"/>
<rect x="272.90" y="479.87" width="14.7" height="12.85" fill="#c77cff"/>
<rect x="289.30" y="479.87" width="14.7" height="12.85" fill="#c77cff"/>
<rect x="305.70" y="479.87" width="14.7" height="12.85" fill="#c77cff"/>
<rect x="334.45" y="479.87" width="14.7" height="12.85" fill="#f4f5db"/>
<rect x="350.85" y="479.87" width="14.7" height="12.85" fill="#f4f5db"/>
<rect x="367.25" y="479.87" width="14.7" height="12.85" fill="#f4f5db"/>
<rect x="383.65" y="479.87" width="14.7" height="12.85" fill="#f4f5db"/>
<rect x="412.30" y="479.87" width="14.7" height="12.85" fill="#f4f5db"/>
<rect x="428.70" y="479.87" width="14.7" height="12.85" fill="#f4f5db"/>
<rect x="445.10" y="479.87" width="14.7" height="12.85" fill="#f4f5db"/>
<rect x="461.50" y="479.87" width="14.7" height="12.85" fill="#f4f5db"/>
<rect x="477.90" y="479.87" width="14.7" height="12.85" fill="#f4f5db"/>
<rect x="494.30" y="479.87" width="14.7" height="12.85" fill="#f4f5db"/>
<rect x="510.70" y="479.87" width="14.7" height="12.85" fill="#f4f5db"/>
<rect x="527.10" y="479.87" width="14.7" height="12.85" fill="#f4f5db"/>
<rect x="583.1" y="479.87" width="14.7" height="12.85" fill="#f4b352"/>
<rect x="240.10" y="494.46" width="14.7" height="12.85" fill="#f8766d"/>
<rect x="256.50" y="494.46" width="14.7" height="12.85" fill="#c77cff"/>
<rect x="272.90" y="494.46" width="14.7" height="12.85" fill="#c77cff"/>
<rect x="289.30" y="494.46" width="14.7" height="12.85" fill="#c77cff"/>
<rect x="305.70" y="494.46" width="14.7" height="12.85" fill="#c77cff"/>
<rect x="334.45" y="494.46" width="14.7" height="12.85" fill="#f4f5db"/>
<rect x="350.85" y="494.46" width="14.7" height="12.85" fill="#f4f5db"/>
<rect x="367.25" y="494.46" width="14.7" height="12.85" fill="#f4f5db"/>
<rect x="383.65" y="494.46" width="14.7" height="12.85" fill="#f4f5db"/>
<rect x="412.30" y="494.46" width="14.7" height="12.85" fill="#f4f5db"/>
<rect x="428.70" y="494.46" width="14.7" height="12.85" fill="#f4f5db"/>
<rect x="445.10" y="494.46" width="14.7" height="12.85" fill="#f4f5db"/>
<rect x="461.50" y="494.46" width="14.7" height="12.85" fill="#f4f5db"/>
<rect x="477.90" y="494.46" width="14.7" height="12.85" fill="#f4f5db"/>
<rect x="494.30" y="494.46" width="14.7" height="12.85" fill="#f4f5db"/>
<rect x="510.70" y="494.46" width="14.7" height="12.85" fill="#f4f5db"/>
<rect x="527.10" y="494.46" width="14.7" height="12.85" fill="#f4f5db"/>
<rect x="583.1" y="494.46" width="14.7" height="12.85" fill="#6a5fac"/>
<rect x="240.10" y="509.06" width="14.7" height="12.85" fill="#f8766d"/>
<rect x="256.50" y="509.06" width="14.7" height="12.85" fill="#c77cff"/>
<rect x="272.90" y="509.06" width="14.7" height="12.85" fill="#c77cff"/>
<rect x="289.30" y="509.06" width="14.7" height="12.85" fill="#c77cff"/>
<rect x="305.70" y="509.06" width="14.7" height="12.85" fill="#c77cff"/>
<rect x="334.45" y="509.06" width="14.7" height="12.85" fill="#f4f5db"/>
<rect x="350.85" y="509.06" width="14.7" height="12.85" fill="#f4f5db"/>
<rect x="367.25" y="509.06" width="14.7" height="12.85" fill="#f4f5db"/>
<rect x="383.65" y="509.06" width="14.7" height="12.85" fill="#f4f5db"/>
<rect x="412.30" y="509.06" width="14.7" height="12.85" fill="#f4f5db"/>
<rect x="428.70" y="509.06" width="14.7" height="12.85" fill="#f4f5db"/>
<rect x="445.10" y="509.06" width="14.7" height="12.85" fill="#f4f5db"/>
<rect x="461.50" y="509.06" width="14.7" height="12.85" fill="#f4f5db"/>
<rect x="477.90" y="509.06" width="14.7" height="12.85" fill="#f4f5db"/>
<rect x="494.30" y="509.06" width="14.7" height="12.85" fill="#f4f5db"/>
<rect x="510.70" y="509.06" width="14.7" height="12.85" fill="#f4f5db"/>
<rect x="527.10" y="509.06" width="14.7" height="12.85" fill="#f4f5db"/>
<rect x="583.1" y="509.06" width="14.7" height="12.85" fill="#4f9a3f"/>
<rect x="240.10" y="523.65" width="14.7" height="12.85" fill="#f8766d"/>
<rect x="256.50" y="523.65" width="14.7" height="12.85" fill="#c77cff"/>
<rect x="272.90" y="523.65" width="14.7" height="12.85" fill="#c77cff"/>
<rect x="289.30" y="523.65" width="14.7" height="12.85" fill="#c77cff"/>
<rect x="305.70" y="523.65" width="14.7" height="12.85" fill="#c77cff"/>
<rect x="334.45" y="523.65" width="14.7" height="12.85" fill="#f4f5db"/>
<rect x="350.85" y="523.65" width="14.7" height="12.85" fill="#f4f5db"/>
<rect x="367.25" y="523.65" width="14.7" height="12.85" fill="#f4f5db"/>
<rect x="383.65" y="523.65" width="14.7" height="12.85" fill="#f4f5db"/>
<rect x="412.30" y="523.65" width="14.7" height="12.85" fill="#f4f5db"/>
<rect x="428.70" y="523.65" width="14.7" height="12.85" fill="#f4f5db"/>
<rect x="445.10" y="523.65" width="14.7" height="12.85" fill="#f4f5db"/>
<rect x="461.50" y="523.65" width="14.7" height="12.85" fill="#f4f5db"/>
<rect x="477.90" y="523.65" width="14.7" height="12.85" fill="#f4f5db"/>
<rect x="494.30" y="523.65" width="14.7" height="12.85" fill="#f4f5db"/>
<rect x="510.70" y="523.65" width="14.7" height="12.85" fill="#f4f5db"/>
<rect x="527.10" y="523.65" width="14.7" height="12.85" fill="#f4f5db"/>
<rect x="583.1" y="523.65" width="14.7" height="12.85" fill="#4f9a3f"/>
<rect x="240.10" y="538.25" width="14.7" height="12.85" fill="#f4f5db"/>
<rect x="256.50" y="538.25" width="14.7" height="12.85" fill="#f4f5db"/>
<rect x="272.90" y="538.25" width="14.7" height="12.85" fill="#f4f5db"/>
<rect x="289.30" y="538.25" width="14.7" height="12.85" fill="#f4f5db"/>
<rect x="305.70" y="538.25" width="14.7" height="12.85" fill="#c77cff"/>
<rect x="334.45" y="538.25" width="14.7" height="12.85" fill="#c77cff"/>
<rect x="350.85" y="538.25" width="14.7" height="12.85" fill="#f8766d"/>
<rect x="367.25" y="538.25" width="14.7" height="12.85" fill="#f4f5db"/>
<rect x="383.65" y="538.25" width="14.7" height="12.85" fill="#f4f5db"/>
<rect x="412.30" y="538.25" width="14.7" height="12.85" fill="#00bfc4"/>
<rect x="428.70" y="538.25" width="14.7" height="12.85" fill="#c77cff"/>
<rect x="445.10" y="538.25" width="14.7" height="12.85" fill="#c77cff"/>
<rect x="461.50" y="538.25" width="14.7" height="12.85" fill="#c77cff"/>
<rect x="477.90" y="538.25" width="14.7" height="12.85" fill="#c77cff"/>
<rect x="494.30" y="538.25" width="14.7" height="12.85" fill="#c77cff"/>
<rect x="510.70" y="538.25" width="14.7" height="12.85" fill="#c77cff"/>
<rect x="527.10" y="538.25" width="14.7" height="12.85" fill="#c77cff"/>
<rect x="583.1" y="538.25" width="14.7" height="12.85" fill="#6a5fac"/>
<rect x="240.10" y="552.84" width="14.7" height="12.85" fill="#f4f5db"/>
<rect x="256.50" y="552.84" width="14.7" height="12.85" fill="#f4f5db"/>
<rect x="272.90" y="552.84" width="14.7" height="12.85" fill="#f4f5db"/>
<rect x="289.30" y="552.84" width="14.7" height="12.85" fill="#f4f5db"/>
<rect x="305.70" y="552.84" width="14.7" height="12.85" fill="#c77cff"/>
<rect x="334.45" y="552.84" width="14.7" height="12.85" fill="#c77cff"/>
<rect x="350.85" y="552.84" width="14.7" height="12.85" fill="#f8766d"/>
<rect x="367.25" y="552.84" width="14.7" height="12.85" fill="#f4f5db"/>
<rect x="383.65" y="552.84" width="14.7" height="12.85" fill="#f4f5db"/>
<rect x="412.30" y="552.84" width="14.7" height="12.85" fill="#c77cff"/>
<rect x="428.70" y="552.84" width="14.7" height="12.85" fill="#c77cff"/>
<rect x="445.10" y="552.84" width="14.7" height="12.85" fill="#c77cff"/>
<rect x="461.50" y="552.84" width="14.7" height="12.85" fill="#c77cff"/>
<rect x="477.90" y="552.84" width="14.7" height="12.85" fill="#c77cff"/>
<rect x="494.30" y="552.84" width="14.7" height="12.85" fill="#c77cff"/>
<rect x="510.70" y="552.84" width="14.7" height="12.85" fill="#c77cff"/>
<rect x="527.10" y="552.84" width="14.7" height="12.85" fill="#c77cff"/>
<rect x="583.1" y="552.84" width="14.7" height="12.85" fill="#f4b352"/>
<rect x="240.10" y="567.43" width="14.7" height="12.85" fill="#f4f5db"/>
<rect x="256.50" y="567.43" width="14.7" height="12.85" fill="#f4f5db"/>
<rect x="272.90" y="567.43" width="14.7" height="12.85" fill="#f4f5db"/>
<rect x="289.30" y="567.43" width="14.7" height="12.85" fill="#f4f5db"/>
<rect x="305.70" y="567.43" width="14.7" height="12.85" fill="#c77cff"/>
<rect x="334.45" y="567.43" width="14.7" height="12.85" fill="#c77cff"/>
<rect x="350.85" y="567.43" width="14.7" height="12.85" fill="#f8766d"/>
<rect x="367.25" y="567.43" width="14.7" height="12.85" fill="#f4f5db"/>
<rect x="383.65" y="567.43" width="14.7" height="12.85" fill="#f4f5db"/>
<rect x="412.30" y="567.43" width="14.7" height="12.85" fill="#c77cff"/>
<rect x="428.70" y="567.43" width="14.7" height="12.85" fill="#c77cff"/>
<rect x="445.10" y="567.43" width="14.7" height="12.85" fill="#c77cff"/>
<rect x="461.50" y="567.43" width="14.7" height="12.85" fill="#c77cff"/>
<rect x="477.90" y="567.43" width="14.7" height="12.85" fill="#c77cff"/>
<rect x="494.30" y="567.43" width="14.7" height="12.85" fill="#c77cff"/>
<rect x="510.70" y="567.43" width="14.7" height="12.85" fill="#c77cff"/>
<rect x="527.10" y="567.43" width="14.7" height="12.85" fill="#c77cff"/>
<rect x="583.1" y="567.43" width="14.7" height="12.85" fill="#6a5fac"/>
<rect x="240.10" y="582.03" width="14.7" height="12.85" fill="#f4f5db"/>
<rect x="256.50" y="582.03" width="14.7" height="12.85" fill="#f4f5db"/>
<rect x="272.90" y="582.03" width="14.7" height="12.85" fill="#f4f5db"/>
<rect x="289.30" y="582.03" width="14.7" height="12.85" fill="#f4f5db"/>
<rect x="305.70" y="582.03" width="14.7" height="12.85" fill="#c77cff"/>
<rect x="334.45" y="582.03" width="14.7" height="12.85" fill="#c77cff"/>
<rect x="350.85" y="582.03" width="14.7" height="12.85" fill="#f8766d"/>
<rect x="367.25" y="582.03" width="14.7" height="12.85" fill="#f4f5db"/>
<rect x="383.65" y="582.03" width="14.7" height="12.85" fill="#f4f5db"/>
<rect x="412.30" y="582.03" width="14.7" height="12.85" fill="#c77cff"/>
<rect x="428.70" y="582.03" width="14.7" height="12.85" fill="#c77cff"/>
<rect x="445.10" y="582.03" width="14.7" height="12.85" fill="#c77cff"/>
<rect x="461.50" y="582.03" width="14.7" height="12.85" fill="#c77cff"/>
<rect x="477.90" y="582.03" width="14.7" height="12.85" fill="#c77cff"/>
<rect x="494.30" y="582.03" width="14.7" height="12.85" fill="#c77cff"/>
<rect x="510.70" y="582.03" width="14.7" height="12.85" fill="#c77cff"/>
<rect x="527.10" y="582.03" width="14.7" height="12.85" fill="#c77cff"/>
<rect x="583.1" y="582.03" width="14.7" height="12.85" fill="#6a5fac"/>
<rect x="240.10" y="596.62" width="14.7" height="12.85" fill="#f4f5db"/>
<rect x="256.50" y="596.62" width="14.7" height="12.85" fill="#f4f5db"/>
<rect x="272.90" y="596.62" width="14.7" height="12.85" fill="#f4f5db"/>
<rect x="289.30" y="596.62" width="14.7" height="12.85" fill="#f4f5db"/>
<rect x="305.70" y="596.62" width="14.7" height="12.85" fill="#c77cff"/>
<rect x="334.45" y="596.62" width="14.7" height="12.85" fill="#c77cff"/>
<rect x="350.85" y="596.62" width="14.7" height="12.85" fill="#f8766d"/>
<rect x="367.25" y="596.62" width="14.7" height="12.85" fill="#f4f5db"/>
<rect x="383.65" y="596.62" width="14.7" height="12.85" fill="#f4f5db"/>
<rect x="412.30" y="596.62" width="14.7" height="12.85" fill="#c77cff"/>
<rect x="428.70" y="596.62" width="14.7" height="12.85" fill="#c77cff"/>
<rect x="445.10" y="596.62" width="14.7" height="12.85" fill="#c77cff"/>
<rect x="461.50" y="596.62" width="14.7" height="12.85" fill="#c77cff"/>
<rect x="477.90" y="596.62" width="14.7" height="12.85" fill="#c77cff"/>
<rect x="494.30" y="596.62" width="14.7" height="12.85" fill="#c77cff"/>
<rect x="510.70" y="596.62" width="14.7" height="12.85" fill="#c77cff"/>
<rect x="527.10" y="596.62" width="14.7" height="12.85" fill="#c77cff"/>
<rect x="583.1" y="596.62" width="14.7" height="12.85" fill="#6a5fac"/>
<rect x="240.10" y="611.22" width="14.7" height="12.85" fill="#f4f5db"/>
<rect x="256.50" y="611.22" width="14.7" height="12.85" fill="#f4f5db"/>
<rect x="272.90" y="611.22" width="14.7" height="12.85" fill="#f4f5db"/>
<rect x="289.30" y="611.22" width="14.7" height="12.85" fill="#f4f5db"/>
<rect x="305.70" y="611.22" width="14.7" height="12.85" fill="#c77cff"/>
<rect x="334.45" y="611.22" width="14.7" height="12.85" fill="#c77cff"/>
<rect x="350.85" y="611.22" width="14.7" height="12.85" fill="#f8766d"/>
<rect x="367.25" y="611.22" width="14.7" height="12.85" fill="#f4f5db"/>
<rect x="383.65" y="611.22" width="14.7" height="12.85" fill="#f4f5db"/>
<rect x="412.30" y="611.22" width="14.7" height="12.85" fill="#c77cff"/>
<rect x="428.70" y="611.22" width="14.7" height="12.85" fill="#c77cff"/>
<rect x="445.10" y="611.22" width="14.7" height="12.85" fill="#c77cff"/>
<rect x="461.50" y="611.22" width="14.7" height="12.85" fill="#c77cff"/>
<rect x="477.90" y="611.22" width="14.7" height="12.85" fill="#c77cff"/>
<rect x="494.30" y="611.22" width="14.7" height="12.85" fill="#c77cff"/>
<rect x="510.70" y="611.22" width="14.7" height="12.85" fill="#c77cff"/>
<rect x="527.10" y="611.22" width="14.7" height="12.85" fill="#c77cff"/>
<rect x="583.1" y="611.22" width="14.7" height="12.85" fill="#6a5fac"/>
<rect x="240.10" y="625.81" width="14.7" height="12.85" fill="#f4f5db"/>
<rect x="256.50" y="625.81" width="14.7" height="12.85" fill="#f4f5db"/>
<rect x="272.90" y="625.81" width="14.7" height="12.85" fill="#f4f5db"/>
<rect x="289.30" y="625.81" width="14.7" height="12.85" fill="#f4f5db"/>
<rect x="305.70" y="625.81" width="14.7" height="12.85" fill="#c77cff"/>
<rect x="334.45" y="625.81" width="14.7" height="12.85" fill="#c77cff"/>
<rect x="350.85" y="625.81" width="14.7" height="12.85" fill="#f8766d"/>
<rect x="367.25" y="625.81" width="14.7" height="12.85" fill="#f4f5db"/>
<rect x="383.65" y="625.81" width="14.7" height="12.85" fill="#f4f5db"/>
<rect x="412.30" y="625.81" width="14.7" height="12.85" fill="#c77cff"/>
<rect x="428.70" y="625.81" width="14.7" height="12.85" fill="#c77cff"/>
<rect x="445.10" y="625.81" width="14.7" height="12.85" fill="#c77cff"/>
<rect x="461.50" y="625.81" width="14.7" height="12.85" fill="#c77cff"/>
<rect x="477.90" y="625.81" width="14.7" height="12.85" fill="#c77cff"/>
<rect x="494.30" y="625.81" width="14.7" height="12.85" fill="#c77cff"/>
<rect x="510.70" y="625.81" width="14.7" height="12.85" fill="#c77cff"/>
<rect x="527.10" y="625.81" width="14.7" height="12.85" fill="#c77cff"/>
<rect x="583.1" y="625.81" width="14.7" height="12.85" fill="#6a5fac"/>
<rect x="240.10" y="640.40" width="14.7" height="12.85" fill="#f4f5db"/>
<rect x="256.50" y="640.40" width="14.7" height="12.85" fill="#f4f5db"/>
<rect x="272.90" y="640.40" width="14.7" height="12.85" fill="#f4f5db"/>
<rect x="289.30" y="640.40" width="14.7" height="12.85" fill="#f4f5db"/>
<rect x="305.70" y="640.40" width="14.7" height="12.85" fill="#c77cff"/>
<rect x="334.45" y="640.40" width="14.7" height="12.85" fill="#c77cff"/>
<rect x="350.85" y="640.40" width="14.7" height="12.85" fill="#f8766d"/>
<rect x="367.25" y="640.40" width="14.7" height="12.85" fill="#f4f5db"/>
<rect x="383.65" y="640.40" width="14.7" height="12.85" fill="#f4f5db"/>
<rect x="412.30" y="640.40" width="14.7" height="12.85" fill="#c77cff"/>
<rect x="428.70" y="640.40" width="14.7" height="12.85" fill="#c77cff"/>
<rect x="445.10" y="640.40" width="14.7" height="12.85" fill="#c77cff"/>
<rect x="461.50" y="640.40" width="14.7" height="12.85" fill="#c77cff"/>
<rect x="477.90" y="640.40" width="14.7" height="12.85" fill="#c77cff"/>
<rect x="494.30" y="640.40" width="14.7" height="12.85" fill="#c77cff"/>
<rect x="510.70" y="640.40" width="14.7" height="12.85" fill="#c77cff"/>
<rect x="527.10" y="640.40" width="14.7" height="12.85" fill="#c77cff"/>
<rect x="583.1" y="640.40" width="14.7" height="12.85" fill="#6a5fac"/>
<rect x="240.10" y="655.00" width="14.7" height="12.85" fill="#f4f5db"/>
<rect x="256.50" y="655.00" width="14.7" height="12.85" fill="#f4f5db"/>
<rect x="272.90" y="655.00" width="14.7" height="12.85" fill="#f4f5db"/>
<rect x="289.30" y="655.00" width="14.7" height="12.85" fill="#f4f5db"/>
<rect x="305.70" y="655.00" width="14.7" height="12.85" fill="#c77cff"/>
<rect x="334.45" y="655.00" width="14.7" height="12.85" fill="#c77cff"/>
<rect x="350.85" y="655.00" width="14.7" height="12.85" fill="#c77cff"/>
<rect x="367.25" y="655.00" width="14.7" height="12.85" fill="#c77cff"/>
<rect x="383.65" y="655.00" width="14.7" height="12.85" fill="#c77cff"/>
<rect x="412.30" y="655.00" width="14.7" height="12.85" fill="#f4f5db"/>
<rect x="428.70" y="655.00" width="14.7" height="12.85" fill="#f4f5db"/>
<rect x="445.10" y="655.00" width="14.7" height="12.85" fill="#f4f5db"/>
<rect x="461.50" y="655.00" width="14.7" height="12.85" fill="#f4f5db"/>
<rect x="477.90" y="655.00" width="14.7" height="12.85" fill="#f4f5db"/>
<rect x="494.30" y="655.00" width="14.7" height="12.85" fill="#f4f5db"/>
<rect x="510.70" y="655.00" width="14.7" height="12.85" fill="#f4f5db"/>
<rect x="527.10" y="655.00" width="14.7" height="12.85" fill="#f4f5db"/>
<rect x="583.1" y="655.00" width="14.7" height="12.85" fill="#4f9a3f"/>
<rect x="240.10" y="669.59" width="14.7" height="12.85" fill="#f4f5db"/>
<rect x="256.50" y="669.59" width="14.7" height="12.85" fill="#f4f5db"/>
<rect x="272.90" y="669.59" width="14.7" height="12.85" fill="#c77cff"/>
<rect x="289.30" y="669.59" width="14.7" height="12.85" fill="#f4f5db"/>
<rect x="305.70" y="669.59" width="14.7" height="12.85" fill="#c77cff"/>
<rect x="334.45" y="669.59" width="14.7" height="12.85" fill="#c77cff"/>
<rect x="350.85" y="669.59" width="14.7" height="12.85" fill="#c77cff"/>
<rect x="367.25" y="669.59" width="14.7" height="12.85" fill="#c77cff"/>
<rect x="383.65" y="669.59" width="14.7" height="12.85" fill="#c77cff"/>
<rect x="412.30" y="669.59" width="14.7" height="12.85" fill="#f4f5db"/>
<rect x="428.70" y="669.59" width="14.7" height="12.85" fill="#f4f5db"/>
<rect x="445.10" y="669.59" width="14.7" height="12.85" fill="#f4f5db"/>
<rect x="461.50" y="669.59" width="14.7" height="12.85" fill="#f4f5db"/>
<rect x="477.90" y="669.59" width="14.7" height="12.85" fill="#f4f5db"/>
<rect x="494.30" y="669.59" width="14.7" height="12.85" fill="#f4f5db"/>
<rect x="510.70" y="669.59" width="14.7" height="12.85" fill="#f4f5db"/>
<rect x="527.10" y="669.59" width="14.7" height="12.85" fill="#f4f5db"/>
<rect x="583.1" y="669.59" width="14.7" height="12.85" fill="#4f9a3f"/>
<rect x="240.10" y="684.19" width="14.7" height="12.85" fill="#f4f5db"/>
<rect x="256.50" y="684.19" width="14.7" height="12.85" fill="#f4f5db"/>
<rect x="272.90" y="684.19" width="14.7" height="12.85" fill="#f4f5db"/>
<rect x="289.30" y="684.19" width="14.7" height="12.85" fill="#f4f5db"/>
<rect x="305.70" y="684.19" width="14.7" height="12.85" fill="#f4f5db"/>
<rect x="334.45" y="684.19" width="14.7" height="12.85" fill="#c77cff"/>
<rect x="350.85" y="684.19" width="14.7" height="12.85" fill="#f4f5db"/>
<rect x="367.25" y="684.19" width="14.7" height="12.85" fill="#f8766d"/>
<rect x="383.65" y="684.19" width="14.7" height="12.85" fill="#f4f5db"/>
<rect x="412.30" y="684.19" width="14.7" height="12.85" fill="#f4f5db"/>
<rect x="428.70" y="684.19" width="14.7" height="12.85" fill="#f4f5db"/>
<rect x="445.10" y="684.19" width="14.7" height="12.85" fill="#f4f5db"/>
<rect x="461.50" y="684.19" width="14.7" height="12.85" fill="#f4f5db"/>
<rect x="477.90" y="684.19" width="14.7" height="12.85" fill="#f4f5db"/>
<rect x="494.30" y="684.19" width="14.7" height="12.85" fill="#f4f5db"/>
<rect x="510.70" y="684.19" width="14.7" height="12.85" fill="#f4f5db"/>
<rect x="527.10" y="684.19" width="14.7" height="12.85" fill="#f4f5db"/>
<rect x="583.1" y="684.19" width="14.7" height="12.85" fill="#6a5fac"/>
<rect x="240.10" y="698.78" width="14.7" height="12.85" fill="#f4f5db"/>
<rect x="256.50" y="698.78" width="14.7" height="12.85" fill="#f4f5db"/>
<rect x="272.90" y="698.78" width="14.7" height="12.85" fill="#f4f5db"/>
<rect x="289.30" y="698.78" width="14.7" height="12.85" fill="#f4f5db"/>
<rect x="305.70" y="698.78" width="14.7" height="12.85" fill="#c77cff"/>
<rect x="334.45" y="698.78" width="14.7" height="12.85" fill="#c77cff"/>
<rect x="350.85" y="698.78" width="14.7" height="12.85" fill="#c77cff"/>
<rect x="367.25" y="698.78" width="14.7" height="12.85" fill="#c77cff"/>
<rect x="383.65" y="698.78" width="14.7" height="12.85" fill="#c77cff"/>
<rect x="412.30" y="698.78" width="14.7" height="12.85" fill="#f4f5db"/>
<rect x="428.70" y="698.78" width="14.7" height="12.85" fill="#f4f5db"/>
<rect x="445.10" y="698.78" width="14.7" height="12.85" fill="#f4f5db"/>
<rect x="461.50" y="698.78" width="14.7" height="12.85" fill="#f4f5db"/>
<rect x="477.90" y="698.78" width="14.7" height="12.85" fill="#f4f5db"/>
<rect x="494.30" y="698.78" width="14.7" height="12.85" fill="#f4f5db"/>
<rect x="510.70" y="698.78" width="14.7" height="12.85" fill="#f4f5db"/>
<rect x="527.10" y="698.78" width="14.7" height="12.85" fill="#f4f5db"/>
<rect x="583.1" y="698.78" width="14.7" height="12.85" fill="#6a5fac"/>
<rect x="240.10" y="713.37" width="14.7" height="12.85" fill="#f4f5db"/>
<rect x="256.50" y="713.37" width="14.7" height="12.85" fill="#f4f5db"/>
<rect x="272.90" y="713.37" width="14.7" height="12.85" fill="#f4f5db"/>
<rect x="289.30" y="713.37" width="14.7" height="12.85" fill="#f4f5db"/>
<rect x="305.70" y="713.37" width="14.7" height="12.85" fill="#f8766d"/>
<rect x="334.45" y="713.37" width="14.7" height="12.85" fill="#c77cff"/>
<rect x="350.85" y="713.37" width="14.7" height="12.85" fill="#c77cff"/>
<rect x="367.25" y="713.37" width="14.7" height="12.85" fill="#c77cff"/>
<rect x="383.65" y="713.37" width="14.7" height="12.85" fill="#c77cff"/>
<rect x="412.30" y="713.37" width="14.7" height="12.85" fill="#f4f5db"/>
<rect x="428.70" y="713.37" width="14.7" height="12.85" fill="#f4f5db"/>
<rect x="445.10" y="713.37" width="14.7" height="12.85" fill="#f4f5db"/>
<rect x="461.50" y="713.37" width="14.7" height="12.85" fill="#f4f5db"/>
<rect x="477.90" y="713.37" width="14.7" height="12.85" fill="#f4f5db"/>
<rect x="494.30" y="713.37" width="14.7" height="12.85" fill="#f4f5db"/>
<rect x="510.70" y="713.37" width="14.7" height="12.85" fill="#c77cff"/>
<rect x="527.10" y="713.37" width="14.7" height="12.85" fill="#c77cff"/>
<rect x="583.1" y="713.37" width="14.7" height="12.85" fill="#f4b352"/>
</g>
<g font-size="10.2" text-anchor="end">
<text transform="translate(237.7,52.40) scale(1.035,1)"><tspan class="i">Pseudomonas balearica</tspan><tspan dx="0.6"> DSM 6083</tspan></text>
<text transform="translate(237.7,66.99) scale(1.035,1)"><tspan class="i">Pseudomonas citronellolis strain</tspan><tspan dx="0.6"> SJTE-3</tspan></text>
<text transform="translate(237.7,81.59) scale(1.035,1)"><tspan class="i">Pseudomonas frederiksbergensis strain</tspan><tspan dx="0.6"> AS1</tspan></text>
<text transform="translate(237.7,96.18) scale(1.035,1)"><tspan class="i">Pseudomonas putida</tspan><tspan dx="0.6"> ND6</tspan></text>
<text transform="translate(237.7,110.78) scale(1.035,1)"><tspan class="i">Pseudomonas putida</tspan><tspan dx="0.6"> strain BS3701</tspan></text>
<text transform="translate(237.7,125.37) scale(1.035,1)"><tspan class="i">Pseudomonas</tspan><tspan dx="0.6"> sp. MPDS</tspan></text>
<text transform="translate(237.7,139.96) scale(1.035,1)"><tspan class="i">Pseudomonas stutzeri</tspan><tspan dx="0.6"> CCUG 29243</tspan></text>
<text transform="translate(237.7,154.56) scale(1.035,1)"><tspan class="i">Pseudomonas stutzeri</tspan><tspan dx="0.6"> strain 19SMN4</tspan></text>
<text transform="translate(237.7,169.15) scale(1.035,1)"><tspan class="i">Alteromonas naphthalenivorans</tspan><tspan dx="0.6"> strain SN2</tspan></text>
<text transform="translate(237.7,183.75) scale(1.035,1)"><tspan class="i">Croceicoccus naphthovorans</tspan><tspan dx="0.6"> strain PQ-2</tspan></text>
<text transform="translate(237.7,198.34) scale(1.035,1)"><tspan class="i">Cycloclasticus</tspan><tspan dx="0.6"> sp. P1</tspan></text>
<text transform="translate(237.7,212.93) scale(1.035,1)"><tspan class="i">Cycloclasticus</tspan><tspan dx="0.6"> sp. PY97N</tspan></text>
<text transform="translate(237.7,227.53) scale(1.035,1)"><tspan class="i">Cycloclasticus zancles</tspan><tspan dx="0.6"> 78-ME</tspan></text>
<text transform="translate(237.7,242.12) scale(1.035,1)"><tspan class="i">Immundisolibacter cernigliae</tspan><tspan dx="0.6"> strain TR3.2</tspan></text>
<text transform="translate(237.7,256.72) scale(1.035,1)"><tspan class="i">Rugosibacter aromaticivorans</tspan><tspan dx="0.6"> strain Ca6</tspan></text>
<text transform="translate(237.7,271.31) scale(1.035,1)"><tspan class="i">Achromobacter denitrificans</tspan><tspan dx="0.6"> strain PheN1</tspan></text>
<text transform="translate(237.7,285.90) scale(1.035,1)"><tspan class="i">Polaromonas naphthalenivorans</tspan><tspan dx="0.6"> CJ2</tspan></text>
<text transform="translate(237.7,300.50) scale(1.035,1)"><tspan class="i">Delftia</tspan><tspan dx="0.6"> sp. Cs1-4</tspan></text>
<text transform="translate(237.7,315.09) scale(1.035,1)"><tspan class="i">Acidovorax carolinensis</tspan><tspan dx="0.6"> strain NA2</tspan></text>
<text transform="translate(237.7,329.69) scale(1.035,1)"><tspan class="i">Acidovorax carolinensis</tspan><tspan dx="0.6"> strain NA3</tspan></text>
<text transform="translate(237.7,344.28) scale(1.035,1)"><tspan class="i">Acidovorax carolinensis</tspan><tspan dx="0.6"> strain P3</tspan></text>
<text transform="translate(237.7,358.87) scale(1.035,1)"><tspan class="i">Acidovorax carolinensis</tspan><tspan dx="0.6"> strain P4</tspan></text>
<text transform="translate(237.7,373.47) scale(1.035,1)"><tspan class="i">Massilia</tspan><tspan dx="0.6"> sp. WG5</tspan></text>
<text transform="translate(237.7,388.06) scale(1.035,1)"><tspan class="i">Paraburkholderia aromaticivorans</tspan><tspan dx="0.6"> strain BN5</tspan></text>
<text transform="translate(237.7,402.66) scale(1.035,1)"><tspan class="i">Burkholderia multivorans</tspan><tspan dx="0.6"> strain DDS 15A-1</tspan></text>
<text transform="translate(237.7,417.25) scale(1.035,1)"><tspan class="i">Celeribacter indicus</tspan><tspan dx="0.6"> strain P73</tspan></text>
<text transform="translate(237.7,431.84) scale(1.035,1)"><tspan class="i">Polymorphum gilvum</tspan><tspan dx="0.6"> SL003B-26A1</tspan></text>
<text transform="translate(237.7,446.44) scale(1.035,1)"><tspan class="i">Martelella</tspan><tspan dx="0.6"> sp. AD-3</tspan></text>
<text transform="translate(237.7,461.03) scale(1.035,1)"><tspan class="i">Erythrobacter atlanticus</tspan><tspan dx="0.6"> strain s21-N3</tspan></text>
<text transform="translate(237.7,475.63) scale(1.035,1)"><tspan class="i">Novosphingobium aromaticivorans</tspan><tspan dx="0.6"> DSM 12444</tspan></text>
<text transform="translate(237.7,490.22) scale(1.035,1)"><tspan class="i">Novosphingobium pentaromativorans</tspan><tspan dx="0.6"> US6-1</tspan></text>
<text transform="translate(237.7,504.81) scale(1.035,1)"><tspan class="i">Novosphingobium</tspan><tspan dx="0.6"> sp. PP1Y</tspan></text>
<text transform="translate(237.7,519.41) scale(1.035,1)"><tspan class="i">Sphingobium barthaii</tspan><tspan dx="0.6"> strain KK22</tspan></text>
<text transform="translate(237.7,534.00) scale(1.035,1)"><tspan class="i">Sphingobium yanoikuyae</tspan><tspan dx="0.6"> strain SJTF8</tspan></text>
<text transform="translate(237.7,548.60) scale(1.035,1)"><tspan class="i">Mycobacterium</tspan><tspan dx="0.6"> sp. EPa45</tspan></text>
<text transform="translate(237.7,563.19) scale(1.035,1)"><tspan class="i">Mycobacterium</tspan><tspan dx="0.6"> sp. KMS</tspan></text>
<text transform="translate(237.7,577.78) scale(1.035,1)"><tspan class="i">Mycobacterium</tspan><tspan dx="0.6"> sp. PYR15</tspan></text>
<text transform="translate(237.7,592.38) scale(1.035,1)"><tspan class="i">Mycobacterium</tspan><tspan dx="0.6"> sp. WY10</tspan></text>
<text transform="translate(237.7,606.97) scale(1.035,1)"><tspan class="i">Mycolicibacterium gilvum</tspan><tspan dx="0.6"> PYR-GCK</tspan></text>
<text transform="translate(237.7,621.57) scale(1.035,1)"><tspan class="i">Mycolicibacterium gilvum</tspan><tspan dx="0.6"> Spyr1</tspan></text>
<text transform="translate(237.7,636.16) scale(1.035,1)"><tspan class="i">Mycolicibacterium rhodesiae</tspan><tspan dx="0.6"> NBB3</tspan></text>
<text transform="translate(237.7,650.75) scale(1.035,1)"><tspan class="i">Mycolicibacterium vanbaalenii</tspan><tspan dx="0.6"> PYR-1</tspan></text>
<text transform="translate(237.7,665.35) scale(1.035,1)"><tspan class="i">Rhodococcus opacus</tspan><tspan dx="0.6"> B4</tspan></text>
<text transform="translate(237.7,679.94) scale(1.035,1)"><tspan class="i">Rhodococcus</tspan><tspan dx="0.6"> sp. WAY2</tspan></text>
<text transform="translate(237.7,694.54) scale(1.035,1)"><tspan class="i">Rhodococcus</tspan><tspan dx="0.6"> sp. WB9</tspan></text>
<text transform="translate(237.7,709.13) scale(1.035,1)"><tspan class="i">Amycolatopsis methanolica</tspan><tspan dx="0.6"> 239</tspan></text>
<text transform="translate(237.7,723.72) scale(1.035,1)"><tspan class="i">Pseudarthrobacter phenanthrenivorans</tspan><tspan dx="0.6"> Sphe3</tspan></text>
</g>
<g font-size="10.2" text-anchor="middle">
<text stroke-width="0" transform="translate(562.7,52.20) scale(1.2,0.9)">-</text>
<text stroke-width="0" transform="translate(562.7,66.79) scale(1.2,0.9)">-</text>
<text stroke-width="0" transform="translate(562.7,81.39) scale(1.2,0.9)">-</text>
<text stroke-width="0" transform="translate(562.7,95.98) scale(1.2,0.9)">-</text>
<text stroke-width="0" transform="translate(562.7,110.58) scale(1.2,0.9)">-</text>
<text stroke-width="0" transform="translate(562.7,125.17) scale(1.2,0.9)">-</text>
<text stroke-width="0" transform="translate(562.7,139.76) scale(1.2,0.9)">-</text>
<text stroke-width="0" transform="translate(562.7,154.36) scale(1.2,0.9)">-</text>
<text stroke-width="0" transform="translate(562.7,168.95) scale(1.2,0.9)">-</text>
<text stroke-width="0" transform="translate(562.7,183.55) scale(1.2,0.9)">-</text>
<text stroke-width="0" transform="translate(562.7,198.14) scale(1.2,0.9)">-</text>
<text stroke-width="0" transform="translate(562.7,212.73) scale(1.2,0.9)">-</text>
<text stroke-width="0" transform="translate(562.7,227.33) scale(1.2,0.9)">-</text>
<text stroke-width="0" transform="translate(562.7,241.92) scale(1.2,0.9)">-</text>
<text stroke-width="0" transform="translate(562.7,256.52) scale(1.2,0.9)">-</text>
<text stroke-width="0" transform="translate(562.7,271.11) scale(1.2,0.9)">-</text>
<text stroke-width="0" transform="translate(562.7,285.70) scale(1.2,0.9)">-</text>
<text stroke-width="0" transform="translate(562.7,300.30) scale(1.2,0.9)">-</text>
<text stroke-width="0" transform="translate(562.7,314.89) scale(1.2,0.9)">-</text>
<text stroke-width="0" transform="translate(562.7,329.49) scale(1.2,0.9)">-</text>
<text stroke-width="0" transform="translate(562.7,344.08) scale(1.2,0.9)">-</text>
<text stroke-width="0" transform="translate(562.7,358.67) scale(1.2,0.9)">-</text>
<text stroke-width="0" transform="translate(562.7,373.27) scale(1.2,0.9)">-</text>
<text stroke-width="0" transform="translate(562.7,387.86) scale(1.2,0.9)">-</text>
<text stroke-width="0" transform="translate(562.7,402.46) scale(1.2,0.9)">-</text>
<text stroke-width="0" transform="translate(562.7,417.05) scale(1.2,0.9)">-</text>
<text stroke-width="0" transform="translate(562.7,431.64) scale(1.2,0.9)">-</text>
<text stroke-width="0" transform="translate(562.7,446.24) scale(1.2,0.9)">-</text>
<text stroke-width="0" transform="translate(562.7,460.83) scale(1.2,0.9)">-</text>
<text stroke-width="0" transform="translate(562.7,475.43) scale(1.2,0.9)">-</text>
<text stroke-width="0" transform="translate(562.7,490.02) scale(1.2,0.9)">-</text>
<text stroke-width="0" transform="translate(562.7,504.61) scale(1.2,0.9)">-</text>
<text stroke-width="0" transform="translate(562.7,519.21) scale(1.2,0.9)">-</text>
<text stroke-width="0" transform="translate(562.7,533.80) scale(1.2,0.9)">-</text>
<text transform="translate(562.7,548.60) scale(1.03,1)">+</text>
<text transform="translate(562.7,563.19) scale(1.03,1)">+</text>
<text transform="translate(562.7,577.78) scale(1.03,1)">+</text>
<text transform="translate(562.7,592.38) scale(1.03,1)">+</text>
<text transform="translate(562.7,606.97) scale(1.03,1)">+</text>
<text transform="translate(562.7,621.57) scale(1.03,1)">+</text>
<text transform="translate(562.7,636.16) scale(1.03,1)">+</text>
<text transform="translate(562.7,650.75) scale(1.03,1)">+</text>
<text transform="translate(562.7,665.35) scale(1.03,1)">+</text>
<text transform="translate(562.7,679.94) scale(1.03,1)">+</text>
<text transform="translate(562.7,694.54) scale(1.03,1)">+</text>
<text transform="translate(562.7,709.13) scale(1.03,1)">+</text>
<text transform="translate(562.7,723.72) scale(1.03,1)">+</text>
</g>
<g font-size="11.35">
<text transform="translate(247.90,37.2) scale(1.03,1) rotate(-45)">nahAc</text>
<text transform="translate(264.30,37.2) scale(1.03,1) rotate(-45)">nahB</text>
<text transform="translate(280.70,37.2) scale(1.03,1) rotate(-45)">nahC</text>
<text transform="translate(297.10,37.2) scale(1.03,1) rotate(-45)">nahD</text>
<text transform="translate(313.50,37.2) scale(1.03,1) rotate(-45)">nahE</text>
<text transform="translate(342.25,37.2) scale(1.03,1) rotate(-45)">narAa</text>
<text transform="translate(358.65,37.2) scale(1.03,1) rotate(-45)">narAb</text>
<text transform="translate(375.05,37.2) scale(1.03,1) rotate(-45)">narB</text>
<text transform="translate(391.45,37.2) scale(1.03,1) rotate(-45)">narC</text>
<text transform="translate(420.10,37.2) scale(1.03,1) rotate(-45)">nidA</text>
<text transform="translate(436.50,37.2) scale(1.03,1) rotate(-45)">nidB</text>
<text transform="translate(452.90,37.2) scale(1.03,1) rotate(-45)">nidD</text>
<text transform="translate(469.30,37.2) scale(1.03,1) rotate(-45)">phdE</text>
<text transform="translate(485.70,37.2) scale(1.03,1) rotate(-45)">phdF</text>
<text transform="translate(502.10,37.2) scale(1.03,1) rotate(-45)">phdG</text>
<text transform="translate(518.50,37.2) scale(1.03,1) rotate(-45)">phdI</text>
<text transform="translate(534.90,37.2) scale(1.03,1) rotate(-45)">phdJ</text>
<text font-size="11.8" transform="translate(561.70,37.2) scale(1.03,1) rotate(-45)">Gram</text>
<text font-size="11.8" transform="translate(591.10,36.7) scale(1.03,1) rotate(-45)">Location</text>
</g>
<rect x="623.5" y="39.5" width="160" height="247" rx="11.5" ry="11.5" fill="#fff" stroke="#999" stroke-width="1"/>
<text x="633.6" y="54.3" font-size="13.3">Methods</text>
<line x1="632.2" y1="56.8" x2="778" y2="56.8" stroke="#8a8a8a" stroke-width="0.9"/>
<text x="633.6" y="153.3" font-size="13.3">Location</text>
<line x1="632.2" y1="155.1" x2="778" y2="155.1" stroke="#8a8a8a" stroke-width="0.9"/>
<text x="633.6" y="240.0" font-size="13.3">Bacteriology</text>
<line x1="632.2" y1="244.3" x2="778" y2="244.3" stroke="#8a8a8a" stroke-width="0.9"/>
<rect x="632.2" y="62.4" width="13.9" height="12.5" fill="#c77cff"/>
<text x="650.6" y="72.5" font-size="11.3">HMM &amp; Blastp</text>
<rect x="632.2" y="80.2" width="13.9" height="12.5" fill="#f8766d"/>
<text x="650.6" y="90.7" font-size="11.3">HMM</text>
<rect x="632.2" y="98.4" width="13.9" height="12.5" fill="#00bfc4"/>
<text x="650.6" y="108.5" font-size="11.3">Blastp</text>
<rect x="632.2" y="116.1" width="13.9" height="12.5" fill="#f4f5db"/>
<text x="650.6" y="125.6" font-size="11.3">No match</text>
<rect x="632.2" y="160.6" width="13.9" height="12.5" fill="#f4b352"/>
<text x="648.2" y="170.8" font-size="11.3">Chromosome &amp; Plasmid</text>
<rect x="632.2" y="178.8" width="13.9" height="12.5" fill="#6a5fac"/>
<text x="648.2" y="189.3" font-size="11.3">Chromosome</text>
<rect x="632.2" y="196.8" width="13.9" height="12.5" fill="#4f9a3f"/>
<text x="648.2" y="207.2" font-size="11.3">Plasmid</text>
<text x="637.9" y="260.2" font-size="11.3" text-anchor="middle">+</text><text x="647.9" y="260.2" font-size="11.3">Gram-positive</text>
<text x="637.9" y="276.8" font-size="11.3" text-anchor="middle">-</text><text x="647.9" y="278.3" font-size="11.3">Gram-negative</text>
</svg></body></html>
